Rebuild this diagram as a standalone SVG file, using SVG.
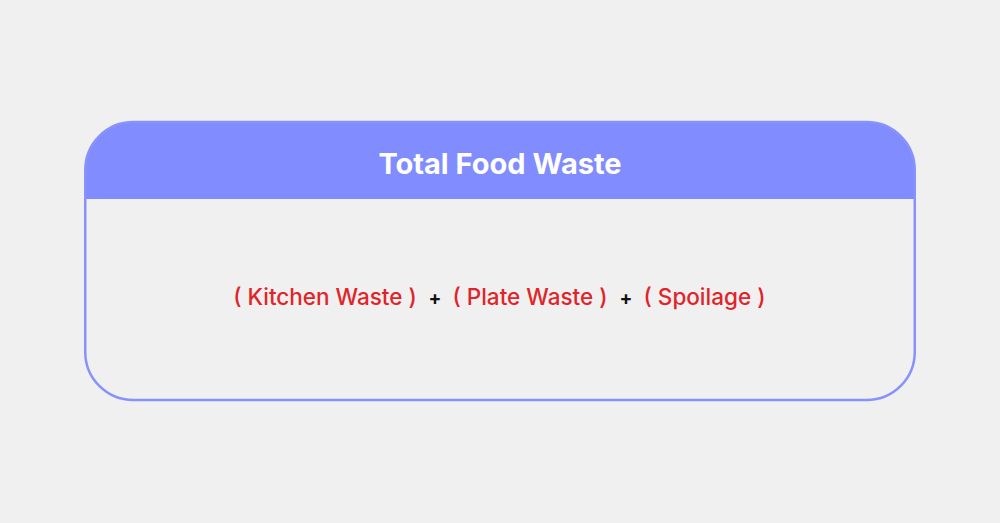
<svg xmlns="http://www.w3.org/2000/svg" width="1000" height="523" viewBox="0 0 1000 523">
<style>
.title{font-family:Inter,"Noto Sans","Liberation Sans",sans-serif;font-weight:700;font-size:29px;fill:#ffffff}
.term{font-family:Inter,"Noto Sans","Liberation Sans",sans-serif;font-weight:500;font-size:22.5px;fill:#e0252a}
.op{font-family:Inter,"Noto Sans","Liberation Sans",sans-serif;font-weight:700;font-size:19px;fill:#111111}
</style>
<rect width="1000" height="523" fill="#f0f0f0"/>
<g id="total-food-waste">
<path d="M85,199 V170 A48,48 0 0 1 133,122 H867 A48,48 0 0 1 915,170 V199 Z" fill="#818cff"/>
<rect x="85.25" y="122" width="829.5" height="278" rx="48" ry="48" fill="none" stroke="#8792fb" stroke-width="2.5"/>
<text class="title" x="500" y="174" text-anchor="middle">Total Food Waste</text>
<text class="term" x="325" y="305" text-anchor="middle">( Kitchen Waste )</text>
<text class="op" x="435" y="305" text-anchor="middle">+</text>
<text class="term" x="530" y="305" text-anchor="middle">( Plate Waste )</text>
<text class="op" x="626" y="305" text-anchor="middle">+</text>
<text class="term" x="704.5" y="305" text-anchor="middle">( Spoilage )</text>
</g>
<g id="connectors"></g>
</svg>
